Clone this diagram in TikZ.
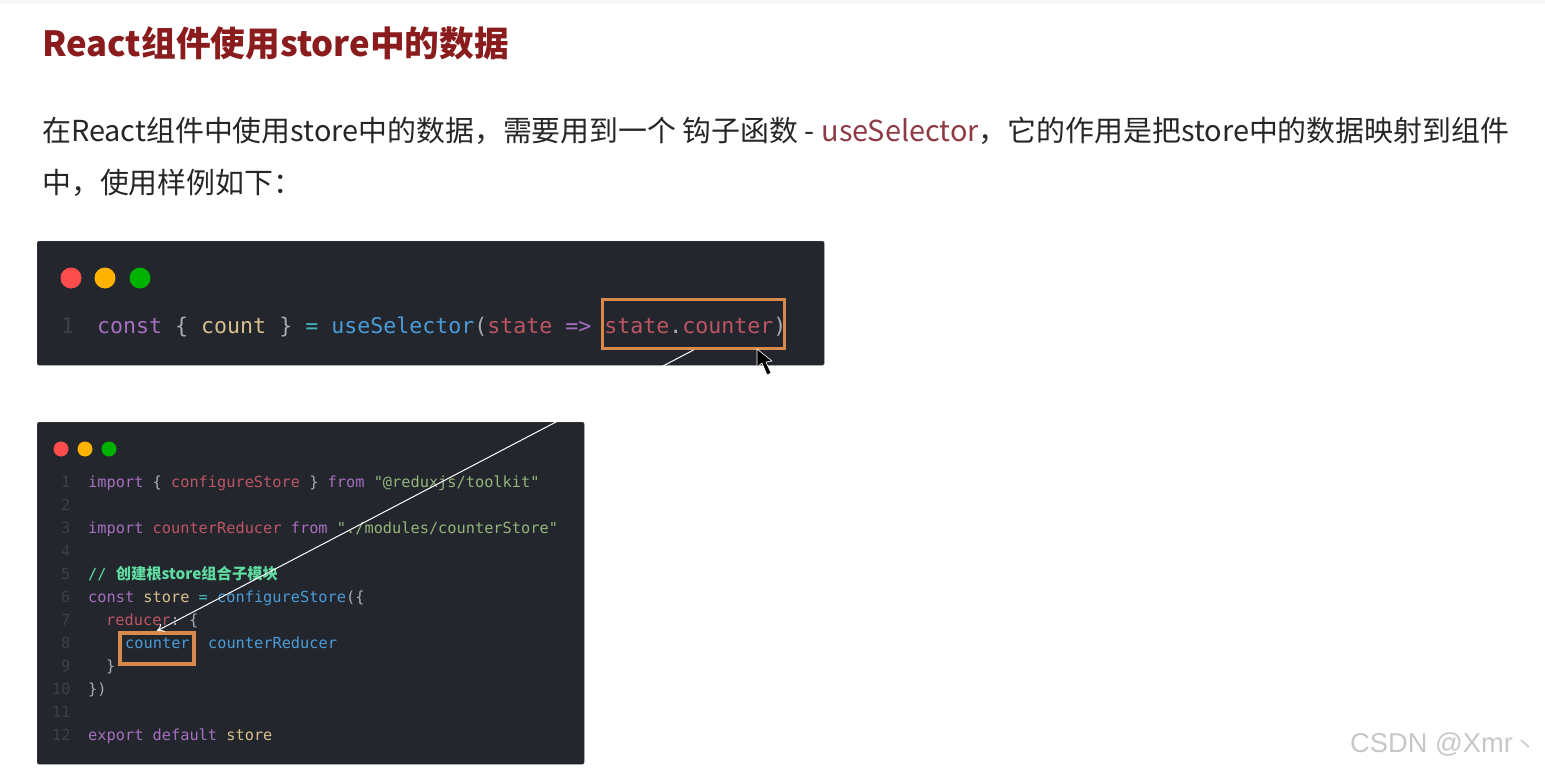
\documentclass[tikz,border=0pt]{standalone}
\usepackage{fontspec}
\usetikzlibrary{arrows.meta}
\setmainfont{Noto Sans CJK SC}
\setmonofont{DejaVu Sans Mono}
\newfontfamily\cjk{Noto Sans CJK SC}
\newfontfamily\wmfont{Liberation Sans}
\definecolor{panelbg}{HTML}{23262D}
\definecolor{boxedge}{HTML}{D98A4B}
\definecolor{titlered}{HTML}{8A1C1E}
\definecolor{bodytext}{HTML}{262626}
\definecolor{hookred}{HTML}{8E3B46}
\definecolor{kwcol}{HTML}{A66FBF}
\definecolor{varcol}{HTML}{D9C08C}
\definecolor{fncol}{HTML}{4A9BD8}
\definecolor{redcol}{HTML}{BE5564}
\definecolor{plaincol}{HTML}{A8ADB5}
\definecolor{opcol}{HTML}{45B5BD}
\definecolor{strcol}{HTML}{93B57A}
\definecolor{notecol}{HTML}{5FDCA0}
\definecolor{numcol}{HTML}{3C4149}
\newcommand{\kw}[1]{\textcolor{kwcol}{#1}}
\newcommand{\vr}[1]{\textcolor{varcol}{#1}}
\newcommand{\fn}[1]{\textcolor{fncol}{#1}}
\newcommand{\rd}[1]{\textcolor{redcol}{#1}}
\newcommand{\pl}[1]{\textcolor{plaincol}{#1}}
\newcommand{\op}[1]{\textcolor{opcol}{#1}}
\newcommand{\str}[1]{\textcolor{strcol}{#1}}
\tikzset{
  panel/.style={anchor=north west,fill=panelbg,draw=black!75,rounded corners=2pt,inner sep=0pt},
  hilite/.style={anchor=north west,draw=boxedge,inner sep=0pt},
  prose/.style={anchor=base west,inner sep=0pt,text=bodytext,font=\fontsize{28.9}{32}\selectfont},
  bigcode/.style={anchor=base west,inner sep=0pt,font=\ttfamily\fontsize{21.6}{24}\selectfont},
  code/.style={anchor=base west,inner sep=0pt,font=\ttfamily\fontsize{15.3}{18}\selectfont},
  lnum/.style={code,text=numcol},
}
\begin{document}
\begin{tikzpicture}[x=1pt,y=-1pt]
  \useasboundingbox (0,0) rectangle (1545,768);
  \fill[black!3] (0,0) rectangle (1545,4);

  \node [anchor=base west,inner sep=0pt,text=titlered,font=\bfseries\fontsize{34.7}{38}\selectfont] (title) at (42,57) {React组件使用store中的数据};
  \node [prose] (intro1) at (42,141) {在React组件中使用store中的数据，需要用到一个 钩子函数 - \textcolor{hookred}{useSelector}，它的作用是把store中的数据映射到组件};
  \node [prose] (intro2) at (42,193) {中，使用样例如下：};

  % top snippet
  \node [panel,minimum width=787pt,minimum height=124pt] (panelA) at (37,241) {};
  \fill[fill=red!70!white] (71,278) circle (10.5);
  \fill[fill=orange!60!yellow] (105,278) circle (10.5);
  \fill[fill=green!70!black] (140,278) circle (10.5);
  \node [bigcode,text=numcol] (numA) at (61,333) {1};
  \node [bigcode] (lineA) at (97,333) {\kw{const} \pl{\{} \vr{count} \pl{\}} \op{=} \fn{useSelector}\pl{(}\rd{state} \kw{=>} \rd{state}\pl{.}\rd{counter}\pl{)}};
  \node [hilite,line width=3pt,minimum width=182pt,minimum height=49pt] (stateBox) at (601,298) {};

  % bottom snippet
  \node [panel,minimum width=547pt,minimum height=342pt] (panelB) at (37,422) {};
  \fill[fill=red!70!white] (61,449) circle (7.5);
  \fill[fill=orange!60!yellow] (85,449) circle (7.5);
  \fill[fill=green!70!black] (109,449) circle (7.5);
  \node [lnum] (num1) at (61,487) {1};
  \node [lnum] (num2) at (61,510) {2};
  \node [lnum] (num3) at (61,533) {3};
  \node [lnum] (num4) at (61,556) {4};
  \node [lnum] (num5) at (61,579) {5};
  \node [lnum] (num6) at (61,602) {6};
  \node [lnum] (num7) at (61,625) {7};
  \node [lnum] (num8) at (61,648) {8};
  \node [lnum] (num9) at (61,671) {9};
  \node [lnum] (num10) at (52,694) {10};
  \node [lnum] (num11) at (52,717) {11};
  \node [lnum] (num12) at (52,740) {12};
  \node [code] (line1) at (88,487) {\kw{import} \pl{\{} \rd{configureStore} \pl{\}} \kw{from} \str{"@reduxjs/toolkit"}};
  \node [code] (line3) at (88,533) {\kw{import} \rd{counterReducer} \kw{from} \str{"./modules/counterStore"}};
  \node [code,text=notecol] (line5) at (88,579) {// {\cjk\bfseries 创建根store组合子模块}};
  \node [code] (line6) at (88,602) {\kw{const} \vr{store} \op{=} \fn{configureStore}\pl{(\{}};
  \node [code] (line7) at (106,625) {\rd{reducer}\pl{: \{}};
  \node [code] (line8) at (125,648) {\fn{counter}\pl{,} \fn{counterReducer}};
  \node [code] (line9) at (106,671) {\pl{\}}};
  \node [code] (line10) at (88,694) {\pl{\})}};
  \node [code] (line12) at (88,740) {\kw{export} \kw{default} \vr{store}};
  \node [hilite,line width=3.5pt,minimum width=74pt,minimum height=31pt] (counterBox) at (118,631) {};

  % link between the two highlights
  \draw[-{To[length=7pt,width=9pt]},white,line width=1pt] (stateBox.south) -- (counterBox.north);

  % mouse pointer
  \filldraw[fill=black,draw=white,line width=0.6pt] (757,349) -- (757,367) -- (762,363) -- (767,375) -- (771,373) -- (766,362) -- (772,361) -- cycle;

  \node [anchor=base west,inner sep=0pt,text=black!22,font=\wmfont\fontsize{27.3}{30}\selectfont] (mark) at (1350,752) {CSDN @Xmr\hspace{3pt}{\cjk\fontsize{20}{20}\selectfont 丶}};
\end{tikzpicture}
\end{document}
